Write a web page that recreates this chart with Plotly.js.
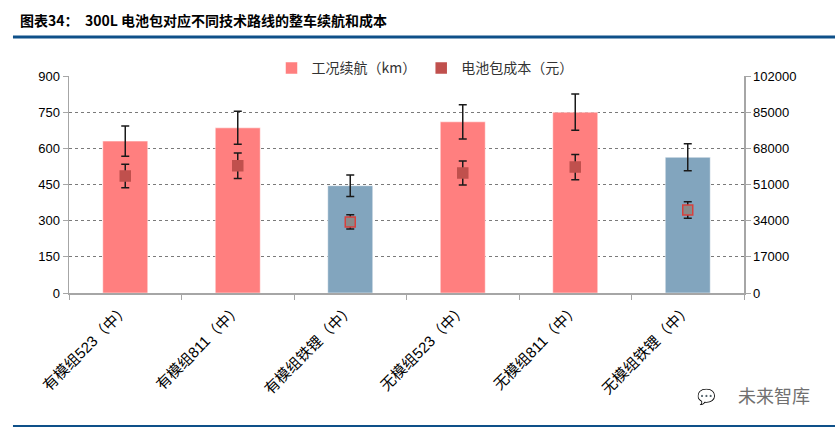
<!DOCTYPE html>
<html>
<head>
<meta charset="utf-8">
<script src="https://cdn.plot.ly/plotly-3.0.1.min.js"></script>
<style>
html,body{margin:0;padding:0;background:#fff;}
#chart{width:835px;height:429px;}
</style>
</head>
<body>
<div id="chart"></div>
<script>
const categories = ["有模组523（中）","有模组811（中）","有模组铁锂（中）","无模组523（中）","无模组811（中）","无模组铁锂（中）"];
const rangeKm = [630, 685, 445, 710, 750, 563];
const costYuan = [55000, 59800, 33400, 56400, 59200, 39000];
const errorPct = 10;
const leftTicks = [0,150,300,450,600,750,900];
const rightTicks = [0,17000,34000,51000,68000,85000,102000];

const barColors = ["#FF7F7F","#FF7F7F","#82A5BE","#FF7F7F","#FF7F7F","#82A5BE"];
const markerFill = ["#C0504D","#C0504D","#8A8A8A","#C0504D","#C0504D","#8A8A8A"];
const markerLine = ["#C0504D","#C0504D","#D8403C","#C0504D","#C0504D","#D8403C"];

const cjk = '"Liberation Sans", Arial, "Noto Sans CJK SC", sans-serif';

const traces = [
  {
    type: 'bar', name: '工况续航（km）', x: categories, y: rangeKm,
    width: 0.4,
    marker: {color: barColors, line: {color: 'rgba(255,255,255,0.5)', width: 1}},
    error_y: {type: 'percent', value: errorPct, color: '#1a1a1a', thickness: 1.5, width: 4},
    yaxis: 'y'
  },
  {
    type: 'scatter', mode: 'markers', name: '电池包成本（元）', x: categories, y: costYuan,
    marker: {symbol: 'square', size: 10, opacity: 1, color: markerFill, line: {color: markerLine, width: 1.5}},
    error_y: {type: 'percent', value: errorPct, color: '#1a1a1a', thickness: 1.5, width: 4},
    yaxis: 'y2'
  }
];

const layout = {
  width: 835, height: 429,
  margin: {l: 69, r: 91, t: 76, b: 136},
  paper_bgcolor: '#fff', plot_bgcolor: '#fff',
  font: {family: cjk, size: 13, color: '#000'},
  showlegend: true,
  legend: {
    orientation: 'h', x: 0.30, y: 1.035, xanchor: 'left', yanchor: 'middle',
    font: {family: '"Noto Sans CJK SC", sans-serif', size: 14, color: '#333'},
    bgcolor: 'rgba(0,0,0,0)', itemwidth: 30, tracegroupgap: 0
  },
  bargap: 0.6,
  xaxis: {
    tickangle: -45, showgrid: false, showline: true, linecolor: '#A6A6A6', linewidth: 1.5,
    ticks: 'outside', tickson: 'boundaries', ticklen: 5, tickcolor: '#A6A6A6',
    tickfont: {family: cjk, size: 15, color: '#000'}, zeroline: false
  },
  yaxis: {
    range: [0, 900], tickvals: leftTicks, ticktext: leftTicks.map(String),
    showgrid: true, gridcolor: '#7A7A7A', griddash: 'dot', gridwidth: 1,
    showline: true, linecolor: '#A6A6A6', linewidth: 1.5,
    ticks: 'outside', ticklen: 5, tickcolor: '#A6A6A6',
    tickfont: {family: cjk, size: 13, color: '#000'}, zeroline: false
  },
  yaxis2: {
    range: [0, 102000], tickvals: rightTicks, ticktext: rightTicks.map(String),
    overlaying: 'y', side: 'right', showgrid: false,
    showline: true, linecolor: '#A6A6A6', linewidth: 1.5,
    ticks: 'outside', ticklen: 5, tickcolor: '#A6A6A6',
    tickfont: {family: cjk, size: 13, color: '#000'}, zeroline: false
  },
  shapes: [
    {type: 'line', xref: 'paper', yref: 'paper', x0: -0.083, x1: 1.135, y0: 1 + 39/217, y1: 1 + 39/217,
     line: {color: '#0E5089', width: 3}},
    {type: 'line', xref: 'paper', yref: 'paper', x0: -0.083, x1: 1.135, y0: -133/217, y1: -133/217,
     line: {color: '#0E5089', width: 2}}
  ],
  annotations: [
    {xref: 'paper', yref: 'paper', x: -0.075, y: 1 + 56/217, xanchor: 'left', yanchor: 'middle',
     text: '<b>图表34：  300L 电池包对应不同技术路线的整车续航和成本</b>', showarrow: false,
     font: {family: '"Noto Sans CJK SC", serif', size: 14, color: '#000'}},
    {xref: 'paper', yref: 'paper', x: 1.1, y: -102/217, xanchor: 'right', yanchor: 'middle',
     text: '未来智库', showarrow: false,
     font: {family: '"Noto Sans CJK SC", sans-serif', size: 18, color: '#707070'}},
    {xref: 'paper', yref: 'paper', x: 0.945, y: -102/217, xanchor: 'center', yanchor: 'middle',
     text: '💬', showarrow: false,
     font: {family: '"Noto Sans CJK SC", sans-serif', size: 15, color: '#999'}}
  ]
};

Plotly.newPlot('chart', traces, layout, {displayModeBar: false, staticPlot: true});
</script>
</body>
</html>
